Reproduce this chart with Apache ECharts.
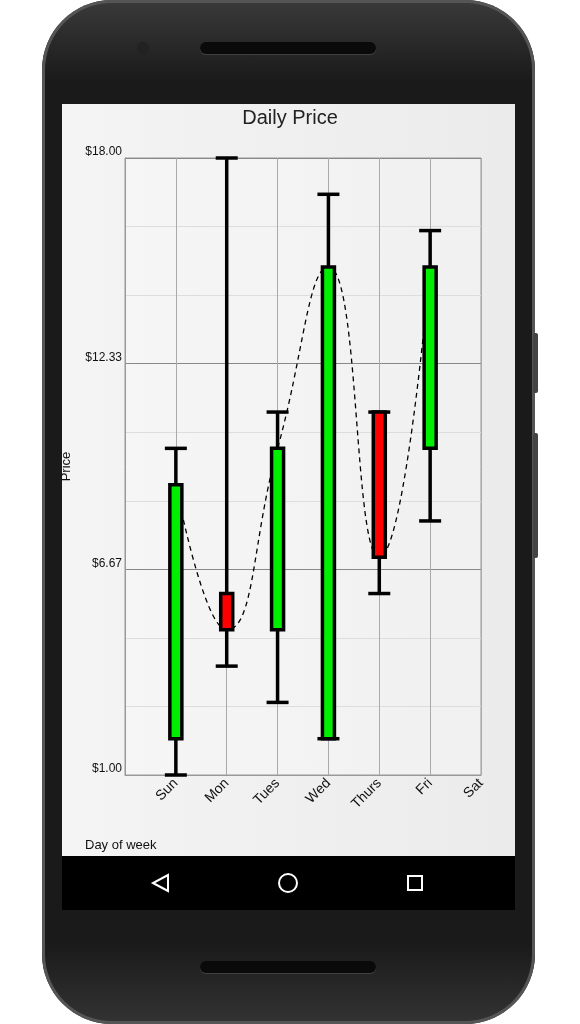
<!DOCTYPE html>
<html><head><meta charset="utf-8">
<script src="https://cdn.jsdelivr.net/npm/echarts@6/dist/echarts.min.js"></script>
<style>
html,body{margin:0;padding:0;background:#fff;width:580px;height:1024px;overflow:hidden;font-family:Roboto,"Noto Sans",sans-serif}
.abs{position:absolute}
</style></head>
<body>
<div class="abs" style="left:42px;top:0;width:493px;height:1024px;border-radius:70px;background:linear-gradient(#3a3a3a,#1a1a1a 8%,#1a1a1a 92%,#333);box-shadow:inset 0 0 0 3px #555"></div>
<div class="abs" style="left:533px;top:333px;width:5px;height:60px;background:#444;border-radius:2px"></div>
<div class="abs" style="left:533px;top:433px;width:5px;height:125px;background:#444;border-radius:2px"></div>
<div class="abs" style="left:200px;top:42px;width:176px;height:12px;border-radius:6px;background:#0a0a0a;box-shadow:0 1px 1px #444"></div>
<div class="abs" style="left:200px;top:961px;width:176px;height:12px;border-radius:6px;background:#0a0a0a;box-shadow:0 1px 1px #444"></div>
<div class="abs" style="left:137px;top:42px;width:12px;height:12px;border-radius:6px;background:#222"></div>
<div class="abs" style="left:62px;top:104px;width:453px;height:752px;background:linear-gradient(90deg,#f4f4f4,#ebebeb)"></div>
<div class="abs" style="left:62px;top:856px;width:453px;height:54px;background:#000"></div>
<svg class="abs" style="left:62px;top:856px" width="453" height="54">
<polygon points="106,27 91,19 91,35" transform="translate(197,54) rotate(180)" fill="none" stroke="#fff" stroke-width="2"/>
<circle cx="226" cy="27" r="9" fill="none" stroke="#fff" stroke-width="2"/>
<rect x="346" y="20" width="14" height="14" fill="none" stroke="#fff" stroke-width="2"/>
</svg>
<div id="c" class="abs" style="left:0;top:0;width:580px;height:1024px"></div>
<script>
const categories = ['', 'Sun', 'Mon', 'Tues', 'Wed', 'Thurs', 'Fri', 'Sat'];
const openVals  = [null, 2, 6, 5, 2, 11, 10, null];
const closeVals = [null, 9, 5, 10, 15, 7, 15, null];
const lowVals   = [null, 1, 4, 3, 2, 6, 8, null];
const highVals  = [null, 10, 18, 11, 17, 11, 16, null];

const candleData = [];
for (let i = 0; i < categories.length; i++) {
  if (openVals[i] !== null) candleData.push([i, openVals[i], closeVals[i], lowVals[i], highVals[i]]);
}
const lineData = closeVals.map((v, i) => v === null ? null : [i, v]).filter(d => d);

const step = 17 / 9;
const chart = echarts.init(document.getElementById('c'));
chart.setOption({
  animation: false,
  title: { text: 'Daily Price', left: 'center', top: 103, textStyle: { fontSize: 20, fontWeight: 'normal', color: '#222' } },
  grid: { left: 125, top: 158, width: 356, height: 617, show: true, backgroundColor: 'rgba(255,255,255,0.25)', borderColor: '#999', borderWidth: 1 },
  xAxis: {
    type: 'category', data: categories, boundaryGap: false,
    axisLine: { lineStyle: { color: '#999' } }, axisTick: { show: false },
    splitLine: { show: true, lineStyle: { color: '#aaa' } },
    axisLabel: { rotate: 45, fontSize: 14, color: '#111', margin: 6, interval: 0 }
  },
  yAxis: {
    type: 'value', min: 1, max: 18, interval: step,
    name: 'Price', nameLocation: 'middle', nameGap: 52, nameRotate: 90,
    nameTextStyle: { fontSize: 13, color: '#111' },
    axisLine: { show: true, lineStyle: { color: '#999' } }, axisTick: { show: false },
    splitLine: { lineStyle: { color: ['#888', '#ddd', '#ddd'] } },
    axisLabel: {
      fontSize: 12, color: '#111', margin: 3, verticalAlign: 'bottom',
      formatter: v => { const k = Math.round((v - 1) / step); return k % 3 === 0 ? '$' + v.toFixed(2) : ''; }
    }
  },
  graphic: [{ type: 'text', left: 85, top: 839, style: { text: 'Day of week', fontSize: 13, fill: '#111' } }],
  series: [
    { type: 'line', data: lineData, smooth: 0.5, symbol: 'none', z: 1,
      lineStyle: { color: '#000', width: 1.3, type: [5, 4] } },
    { type: 'custom', z: 3, data: candleData,
      renderItem: (params, api) => {
        const x = api.value(0), o = api.value(1), c = api.value(2), lo = api.value(3), hi = api.value(4);
        const pHi = api.coord([x, hi]), pLo = api.coord([x, lo]);
        const pO = api.coord([x, o]), pC = api.coord([x, c]);
        const cx = pHi[0], cap = 11, bw = 6;
        const st = { stroke: '#000', lineWidth: 3.5 };
        const top = Math.min(pO[1], pC[1]), bot = Math.max(pO[1], pC[1]);
        return { type: 'group', children: [
          { type: 'line', shape: { x1: cx, y1: pHi[1], x2: cx, y2: pLo[1] }, style: st },
          { type: 'line', shape: { x1: cx - cap, y1: pHi[1], x2: cx + cap, y2: pHi[1] }, style: st },
          { type: 'line', shape: { x1: cx - cap, y1: pLo[1], x2: cx + cap, y2: pLo[1] }, style: st },
          { type: 'rect', shape: { x: cx - bw, y: top, width: 2 * bw, height: bot - top },
            style: { fill: c >= o ? '#00ee00' : '#ff0000', stroke: '#000', lineWidth: 3.5 } }
        ] };
      }
    }
  ]
});
</script>
</body></html>
